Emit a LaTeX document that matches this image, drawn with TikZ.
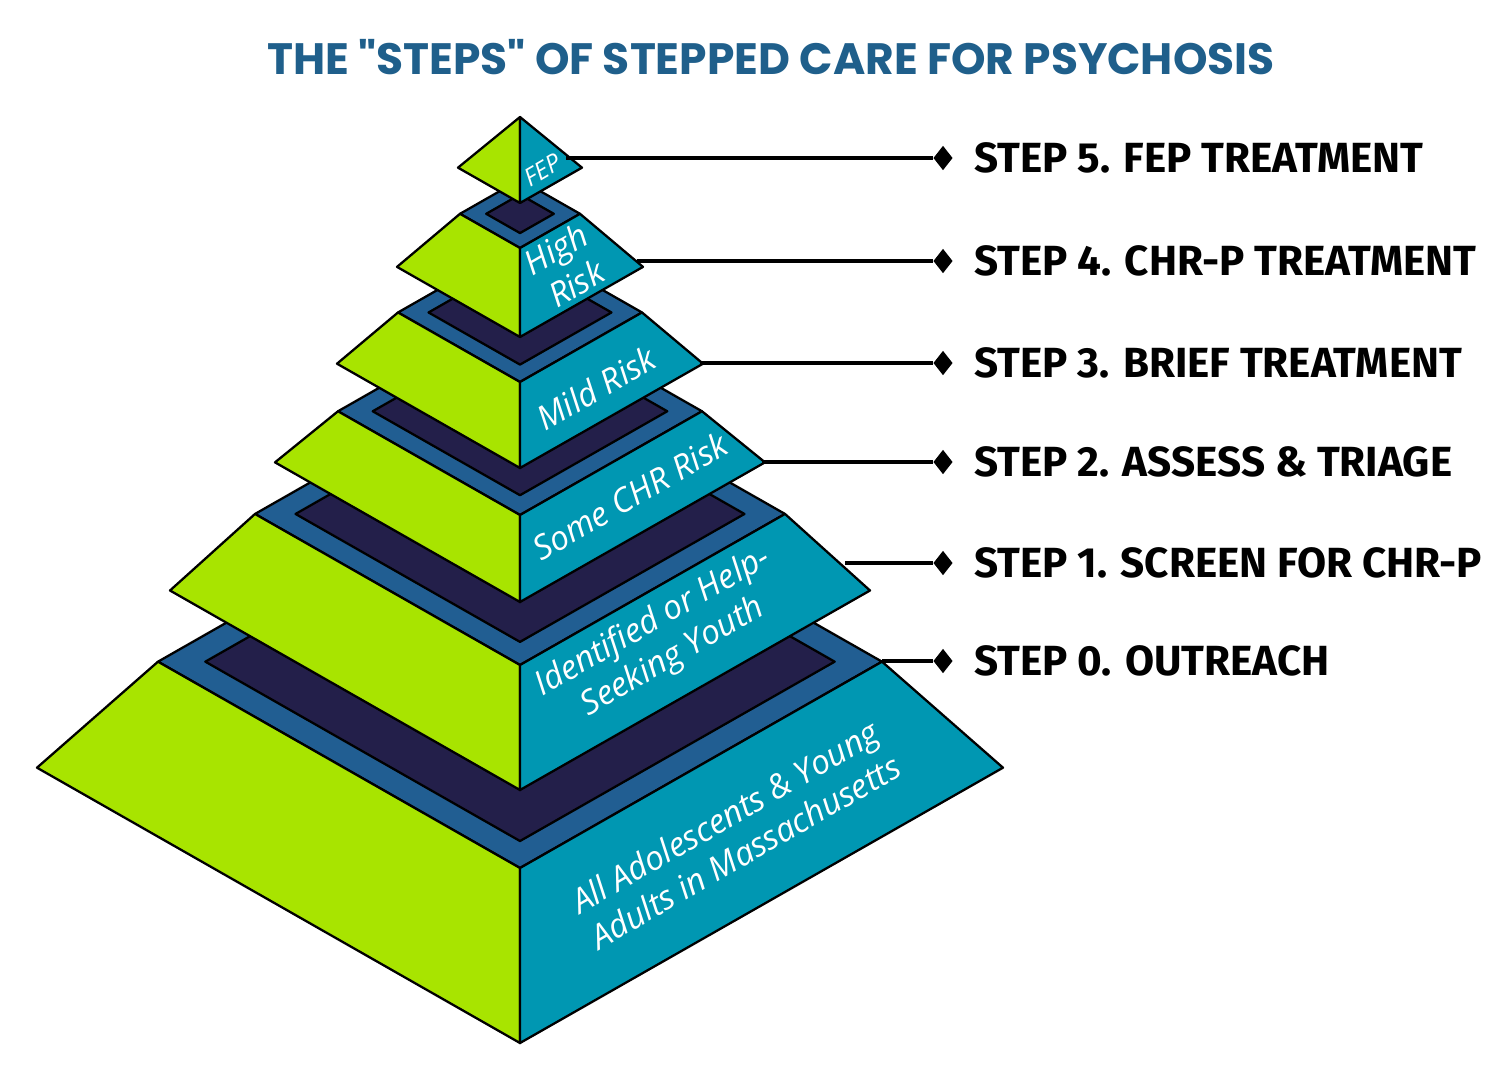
\documentclass[tikz,border=0pt]{standalone}
\usepackage{fontspec}
\setmainfont{Open Sans}
\newfontfamily\headfont{Poppins}
\newfontfamily\stepfont{Fira Sans}
\usetikzlibrary{shapes.geometric}

\definecolor{lime}{HTML}{A8E400}
\definecolor{teal}{HTML}{0097B2}
\definecolor{rim}{HTML}{215E92}
\definecolor{navy}{HTML}{231F4A}
\definecolor{titleblue}{HTML}{1F5F8B}

\tikzset{
  face/.style={draw=black, line width=1.3pt, line join=round},
  tag/.style={text=white, font=\itshape\fontsize{19}{23}\selectfont, align=center, rotate=30},
  steplabel/.style={anchor=west, font=\stepfont\bfseries\fontsize{24}{26}\selectfont},
  dot/.style={diamond, fill=black, inner sep=0pt, minimum width=11pt, minimum height=14pt},
  link/.style={line width=2.2pt},
}

\begin{document}
\begin{tikzpicture}[x=0.02cm, y=-0.02cm]
  \useasboundingbox (0,0) rectangle (1507,1079);

  \node[text=titleblue, font=\headfont\bfseries\fontsize{25}{27}\selectfont] (title) at (771,57) {THE "STEPS" OF STEPPED CARE FOR PSYCHOSIS};

  % tiers, bottom to top: name / front top / top half width / front bottom / bottom half width
  \foreach \n/\yf/\a/\yb/\b in {0/868/362/1043/483, 1/665/265/790/350, 2/515/182/602/245,
                                3/382/122/468/183, 4/248/60/337/123, 5/117/0/203/62}{
    \pgfmathsetmacro\ai{max(0.93*\a-22,0)}
    \pgfmathsetmacro\c{\yf-0.57*\a}
    \draw[face, fill=rim] ({520-\a},\c) -- (520,\yf) -- ({520+\a},\c) -- (520,{\c-0.57*\a}) -- cycle;
    \draw[face, fill=navy] ({520-\ai},\c) -- (520,{\c+0.57*\ai}) -- ({520+\ai},\c) -- (520,{\c-0.57*\ai}) -- cycle;
    \draw[face, fill=lime] ({520-\a},\c) -- (520,\yf) -- (520,\yb) -- ({520-\b},{\yb-0.57*\b}) -- cycle;
    \draw[face, fill=teal] ({520+\a},\c) -- (520,\yf) -- (520,\yb) -- ({520+\b},{\yb-0.57*\b}) -- cycle;
  }

  \node[tag, font=\itshape\fontsize{14}{16}\selectfont] (fep) at (543,170) {FEP};
  \node[tag] (high)  at (566,266) {High\\Risk};
  \node[tag] (mild)  at (596,388) {Mild Risk};
  \node[tag] (some)  at (630,496) {Some CHR Risk};
  \node[tag] (ident) at (663,640) {Identified or Help-\\Seeking Youth};
  \node[tag] (all)   at (735,834) {All Adolescents \& Young\\Adults in Massachusetts};

  \coordinate (s5) at (566,158);
  \coordinate (s4) at (637,261);
  \coordinate (s3) at (700,363);
  \coordinate (s2) at (762,462);
  \coordinate (s1) at (845,563);
  \coordinate (s0) at (882,661);

  \node[dot] (d5) at (943,158) {};
  \node[dot] (d4) at (943,261) {};
  \node[dot] (d3) at (943,363) {};
  \node[dot] (d2) at (943,462) {};
  \node[dot] (d1) at (943,563) {};
  \node[dot] (d0) at (943,661) {};

  \draw[link] (s5) -- (d5);
  \draw[link] (s4) -- (d4);
  \draw[link] (s3) -- (d3);
  \draw[link] (s2) -- (d2);
  \draw[link] (s1) -- (d1);
  \draw[link] (s0) -- (d0);

  \node[steplabel] (step5) at (968,158) {STEP 5. FEP TREATMENT};
  \node[steplabel] (step4) at (968,261) {STEP 4. CHR-P TREATMENT};
  \node[steplabel] (step3) at (968,363) {STEP 3. BRIEF TREATMENT};
  \node[steplabel] (step2) at (968,462) {STEP 2. ASSESS \& TRIAGE};
  \node[steplabel] (step1) at (968,563) {STEP 1. SCREEN FOR CHR-P};
  \node[steplabel] (step0) at (968,661) {STEP 0. OUTREACH};
\end{tikzpicture}
\end{document}
